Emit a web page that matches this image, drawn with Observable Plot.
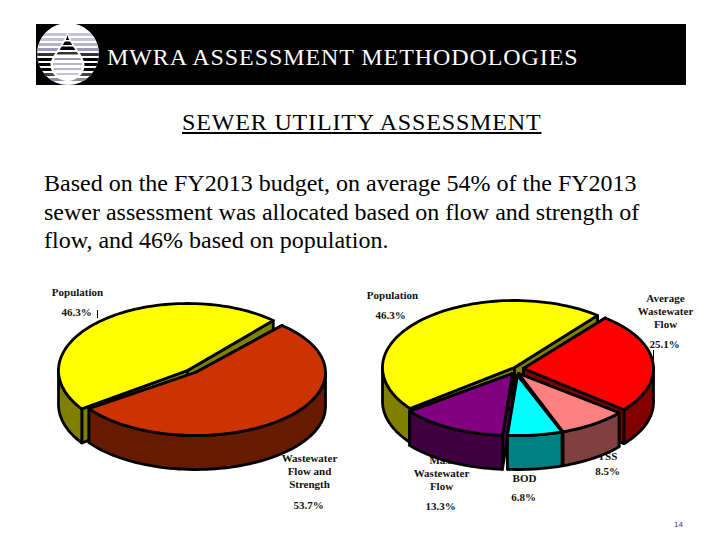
<!DOCTYPE html>
<html><head><meta charset="utf-8">
<script src="https://cdn.jsdelivr.net/npm/d3@7"></script>
<script src="https://cdn.jsdelivr.net/npm/@observablehq/plot@0.6"></script>
<style>
html,body{margin:0;padding:0;background:#fff;width:720px;height:540px;overflow:hidden}
body{position:relative;font-family:"Liberation Serif",serif;color:#000}
#banner{position:absolute;left:36px;top:24px;width:650px;height:61px;background:#000}
#banner svg{position:absolute;left:0;top:-2px}
#banner h1{position:absolute;left:71px;top:21px;margin:0;font:400 24px/1 "Liberation Serif",serif;letter-spacing:.92px;color:#fff;white-space:nowrap}
#sub{position:absolute;left:182px;top:108px;margin:0;font:400 24px/1.2 "Liberation Serif",serif;letter-spacing:.85px;text-decoration:underline;white-space:nowrap}
#body{position:absolute;left:44px;top:169px;margin:0;font:400 24px/28.5px "Liberation Serif",serif;white-space:nowrap}
#chart{position:absolute;left:0;top:280px}
</style></head><body>
<div id="banner"><svg width="66" height="66" viewBox="0 0 66 66">
<defs><clipPath id="c"><circle cx="32" cy="32" r="31"/></clipPath>
<clipPath id="d"><path d="M31.5 13 C33 22 46 33 46 43 A14.5 14 0 0 1 17 43 C17 33 30 22 31.5 13Z"/></clipPath></defs>
<circle cx="32" cy="32" r="31" fill="#fff"/>
<g clip-path="url(#c)">
<rect x="0" y="11" width="66" height="3" fill="#c4c4d8"/><rect x="0" y="16" width="66" height="3" fill="#c4c4d8"/>
<rect x="0" y="21" width="66" height="3" fill="#b4b4cc"/><rect x="0" y="26" width="66" height="3" fill="#9a9ab4"/>
<rect x="0" y="31" width="66" height="3" fill="#333"/><rect x="0" y="36" width="66" height="3" fill="#000"/>
<rect x="0" y="41" width="66" height="3" fill="#000"/><rect x="0" y="46" width="66" height="3" fill="#000"/>
<rect x="0" y="51" width="66" height="3" fill="#444"/><rect x="0" y="56" width="66" height="3" fill="#8d8da8"/>
</g>
<path d="M31.5 10 C34 21 48.500 33 48.500 43 A17 16 0 0 1 14.500 43 C14.500 33 29 21 31.500 10Z" fill="#fff"/>
<g clip-path="url(#d)">
<rect x="10" y="12" width="44" height="6" fill="#000"/><rect x="10" y="19.500" width="44" height="3.500" fill="#000"/>
<rect x="10" y="24.500" width="44" height="3.500" fill="#000"/><rect x="10" y="30" width="44" height="2.500" fill="#333"/>
<rect x="10" y="36" width="44" height="2" fill="#9a9ab4"/><rect x="10" y="41" width="44" height="2" fill="#b4b4cc"/>
<rect x="10" y="46" width="44" height="2" fill="#b4b4cc"/><rect x="10" y="51" width="44" height="2" fill="#c4c4d8"/>
</g>
</svg><h1>MWRA ASSESSMENT METHODOLOGIES</h1></div>
<p id="sub">SEWER UTILITY ASSESSMENT</p>
<p id="body">Based on the FY2013 budget, on average 54% of the FY2013<br>sewer assessment was allocated based on flow and strength of<br>flow, and 46% based on population.</p>
<div id="chart"></div>
<script>
// Data
const leftCategories = ["Population", "Wastewater Flow and Strength"];
const leftShares = [46.3, 53.7];
const rightCategories = ["Average Wastewater Flow", "TSS", "BOD", "Max. Wastewater Flow", "Population"];
const rightShares = [25.1, 8.5, 6.8, 13.3, 46.3];
const pageNumber = "14";

// Layout of the two tilted pies (page pixels)
const depth = 34;
const leftLayout = [
  {top:"#ffff00", side:"#808000", cx:187, cy:370, rx:129, ry:67},
  {top:"#cc3300", side:"#661a00", cx:195, cy:372, rx:130, ry:63}
];
const rightLayout = [
  {top:"#ff0000", side:"#800000", cx:523, cy:368, rx:130, ry:65},
  {top:"#ff8080", side:"#804040", cx:518, cy:373, rx:130, ry:62},
  {top:"#00ffff", side:"#008080", cx:517, cy:375, rx:130, ry:60},
  {top:"#800080", side:"#400040", cx:512, cy:373, rx:130, ry:62},
  {top:"#ffff00", side:"#808000", cx:514, cy:367, rx:132, ry:67}
];

function wedges(shares, layout, startDeg, order){
  let a = startDeg;
  const list = shares.map((s,i)=>{
    const a0 = a, a1 = a + s*3.6; a = a1;
    return {i, a0, a1, ...layout[i]};
  });
  const polys = [];
  const pt = (w,deg,dy=0)=>{const t=deg*Math.PI/180;return [w.cx+w.rx*Math.cos(t), w.cy+w.ry*Math.sin(t)+dy];};
  const arc = (w,d0,d1,dy=0)=>{const n=Math.max(2,Math.ceil(Math.abs(d1-d0)/2));return d3.range(n+1).map(k=>pt(w,d0+(d1-d0)*k/n,dy));};
  const add = (id,pts,fill)=>pts.forEach(([x,y])=>polys.push({id,x,y,fill}));
  for (const i of order){
    const w = list[i], c=[w.cx,w.cy], cd=[w.cx,w.cy+depth], k=`${startDeg}-${i}-`;
    for (const [n,d] of [["q0",w.a0],["q1",w.a1]]) add(k+n,[c,pt(w,d),pt(w,d,depth),cd],w.side);
    // visible outer wall: part of the slice on the front half of the rim
    for (const off of [-360,0,360]){
      const lo=Math.max(w.a0+off,0), hi=Math.min(w.a1+off,180);
      if (hi>lo) add(k+"wall"+off,[...arc(w,lo,hi),...arc(w,hi,lo,depth)],w.side);
    }
    add(k+"top",[c,...arc(w,w.a0,w.a1)],w.top);
  }
  return polys;
}
const leftPolys = wedges(leftShares, leftLayout, 145, [0,1]);
const rightPolys = wedges(rightShares, rightLayout, -51, [4,0,3,1,2]);
const polys = [...leftPolys, ...rightPolys];

const fmt = v => v.toFixed(1)+"%";
const labels = [
  {t:leftCategories[0], x:77, y:291}, {t:fmt(leftShares[0]), x:76, y:311},
  {t:"Wastewater\nFlow and\nStrength", x:309, y:470.500}, {t:fmt(leftShares[1]), x:308, y:504},
  {t:rightCategories[4], x:392, y:294}, {t:fmt(rightShares[4]), x:390, y:314},
  {t:"Average\nWastewater\nFlow", x:665, y:310.500}, {t:fmt(rightShares[0]), x:664, y:343},
  {t:"TSS", x:607, y:455}, {t:fmt(rightShares[1]), x:607, y:470},
  {t:"BOD", x:524, y:477}, {t:fmt(rightShares[2]), x:523, y:496},
  {t:"Max.\nWastewater\nFlow", x:441, y:472}, {t:fmt(rightShares[3]), x:440, y:505}
];

const plot = Plot.plot({
  width:720, height:260, margin:0,
  x:{domain:[0,720], range:[0,720], axis:null},
  y:{domain:[280,540], range:[0,260], axis:null},
  marks:[
    Plot.text(labels,{x:"x",y:"y",text:"t",fontFamily:"Liberation Serif",fontSize:11,fontWeight:700,lineHeight:1.18,fill:"#111",stroke:"none"}),
    Plot.ruleX([97],{y1:310,y2:318,stroke:"#000",strokeWidth:1}),
    Plot.ruleX([653],{y1:350,y2:362,stroke:"#000",strokeWidth:1}),
    Plot.line(polys,{x:"x",y:"y",z:"id",fill:"fill",stroke:"#000",strokeWidth:2.8,strokeLinejoin:"round",curve:"linear-closed"}),
    Plot.text([pageNumber],{x:[678],y:[524],text:d=>d,fontFamily:"Liberation Sans",fontSize:8,fill:"#33336b"})
  ]
});
plot.style.display="block";
document.getElementById("chart").append(plot);
</script>
</body></html>
